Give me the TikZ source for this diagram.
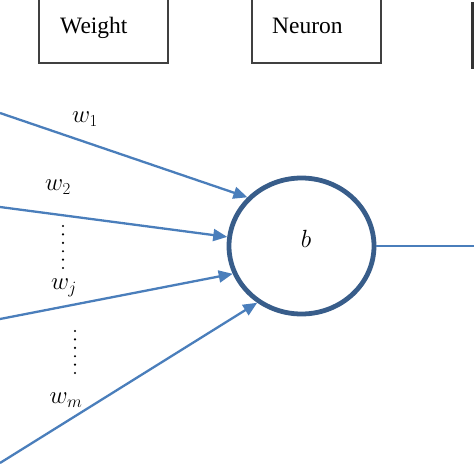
\documentclass[tikz,border=0pt]{standalone}
\usepackage{amsmath, amssymb}
\usepackage{fontspec}
\usetikzlibrary{shapes, arrows.meta, positioning, calc}
\newfontfamily\boxfont{Liberation Serif}
\definecolor{wireblue}{HTML}{4A7EBB}
\definecolor{ringblue}{HTML}{385D8A}

\begin{document}
\begin{tikzpicture}[x=1pt, y=-1pt,
    labelbox/.style={rectangle, draw=black!75, line width=1.1pt, minimum width=129pt, minimum height=64pt, inner sep=0pt},
    neuron/.style={ellipse, draw=ringblue, line width=4.8pt, minimum width=145pt, minimum height=136pt, inner sep=0pt},
    wire/.style={draw=wireblue, line width=2.3pt, -{Triangle[length=14pt, width=12pt]}},
    wlabel/.style={inner sep=0pt, font=\fontsize{24}{28}\selectfont},
    dotcol/.style={draw=black, line width=2.4pt, line cap=round, dash pattern=on 0pt off 8.4pt}]

        % Frame of the picture
        \clip (0,0) rectangle (474,474);

        % Boxes along the top
        \node[labelbox] (wbox) at (103.5,31) {};
        \node[labelbox] (nbox) at (316.5,31) {};
        \node[labelbox, draw=black!80, line width=2.4pt] (obox) at (537,35.5) {};
        \node[anchor=base west, inner sep=0pt, font=\boxfont\fontsize{23.5}{27}\selectfont] (wtext) at (60,33) {Weight};
        \node[anchor=base west, inner sep=0pt, font=\boxfont\fontsize{23.5}{27}\selectfont] (ntext) at (272,33) {Neuron};

        % The neuron
        \node[neuron] (cell) at (301.5,246) {};
        \node[inner sep=0pt, font=\fontsize{28}{32}\selectfont] (bias) at (306,239) {$b$};

        % Inputs
        \coordinate (in1) at (0,113);
        \coordinate (in2) at (0,207);
        \coordinate (inj) at (0,319);
        \coordinate (inm) at (0,463);
        \draw[wire] (in1) -- (cell.138.6);
        \draw[wire] (in2) -- (cell.173);
        \draw[wire] (inj) -- (cell.202);
        \draw[wire] (inm) -- (cell.232);

        % Output
        \coordinate (out) at (480,246);
        \draw[draw=wireblue, line width=2.2pt] (cell.east) -- (out);

        % Weight labels
        \node[wlabel] (w1) at (85,119) {$w_{\mathrm{1}}$};
        \node[wlabel] (w2) at (58,187) {$w_{\mathrm{2}}$};
        \node[wlabel] (wj) at (64,288) {$w_j$};
        \node[wlabel] (wm) at (66,400) {$w_m$};

        % Vertical dots
        \coordinate (d1a) at (63,226); \coordinate (d1b) at (63,268.5);
        \coordinate (d2a) at (75,331); \coordinate (d2b) at (75,373.5);
        \draw[dotcol] (d1a) -- (d1b);
        \draw[dotcol] (d2a) -- (d2b);

    \end{tikzpicture}
\end{document}
